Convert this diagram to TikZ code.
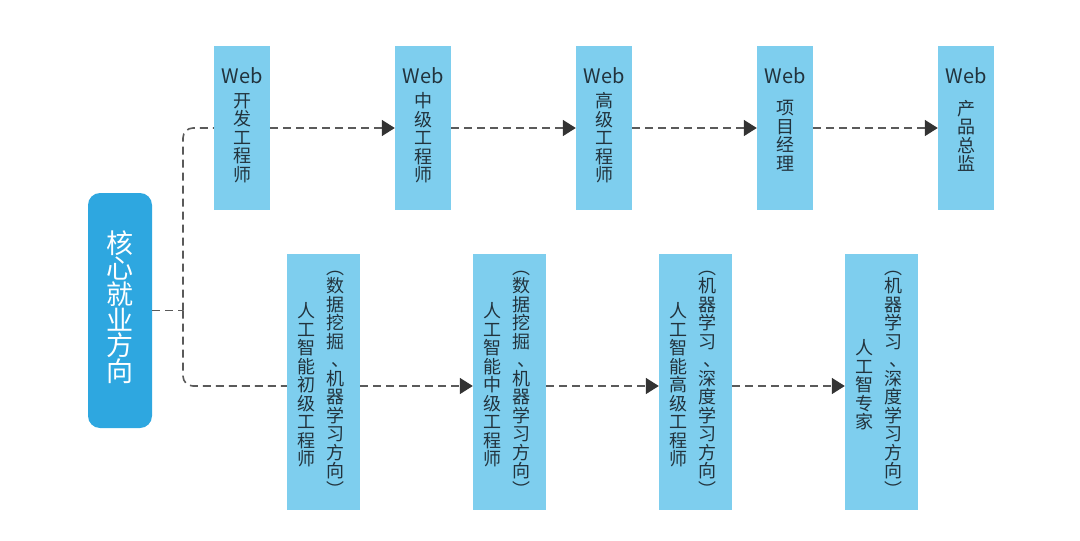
\documentclass[tikz,border=0pt]{standalone}
\usepackage{fontspec}
\setmainfont{Noto Sans CJK SC}
\usetikzlibrary{arrows.meta}
\definecolor{boxblue}{HTML}{7ECEEE}
\definecolor{coreblue}{HTML}{2EA7E0}
\definecolor{txtdark}{HTML}{22333D}
\definecolor{linegray}{HTML}{5A5A5A}
\definecolor{arrowgray}{HTML}{333333}
\newcommand{\vcomma}{\makebox[1em][l]{\hspace{0.3em}、}}
\begin{document}
\begin{tikzpicture}[x=1pt,y=-1pt,
  topbox/.style={fill=boxblue,draw=none,inner sep=0,minimum width=56,minimum height=164},
  botbox/.style={fill=boxblue,draw=none,inner sep=0,minimum width=73,minimum height=256},
  corebox/.style={fill=coreblue,draw=none,rounded corners=12,inner sep=0,minimum width=64,minimum height=235},
  webtxt/.style={text=txtdark,inner sep=0,font=\fontsize{20}{22}\selectfont},
  coltxt/.style={text=txtdark,inner sep=0,align=center,font=\fontsize{18}{18.5}\selectfont},
  coretxt/.style={text=white,inner sep=0,align=center,font=\fontsize{27}{25.6}\selectfont},
  conn/.style={draw=linegray,line width=1.6,dash pattern=on 8pt off 5pt},
  arr/.style={conn,-{Triangle[length=13pt,width=16pt,fill=arrowgray,color=arrowgray]}}
]
\useasboundingbox (0,0) rectangle (1080,541);

% core node
\node[corebox] (core) at (120,310.5) {};
\node[coretxt] (coret) at (120,307) {核\\心\\就\\业\\方\\向};

% top row
\node[topbox] (t1) at (242,128) {};
\node[topbox] (t2) at (423,128) {};
\node[topbox] (t3) at (604,128) {};
\node[topbox] (t4) at (785,128) {};
\node[topbox] (t5) at (966,128) {};
\node[webtxt] (w1) at (242,76) {Web};
\node[webtxt] (w2) at (423,76) {Web};
\node[webtxt] (w3) at (604,76) {Web};
\node[webtxt] (w4) at (785,76) {Web};
\node[webtxt] (w5) at (966,76) {Web};
\node[coltxt] (c1) at (242,138) {开\\发\\工\\程\\师};
\node[coltxt] (c2) at (423,138) {中\\级\\工\\程\\师};
\node[coltxt] (c3) at (604,138) {高\\级\\工\\程\\师};
\node[coltxt] (c4) at (785,136) {项\\目\\经\\理};
\node[coltxt] (c5) at (966,136) {产\\品\\总\\监};

% bottom row
\node[botbox] (b1) at (323.5,382) {};
\node[botbox] (b2) at (509.5,382) {};
\node[botbox] (b3) at (695.5,382) {};
\node[botbox] (b4) at (881.5,382) {};
\node[coltxt] (r1) at (335,383.5) {︵\\数\\据\\挖\\掘\\\vcomma\\机\\器\\学\\习\\方\\向\\︶};
\node[coltxt] (l1) at (306.5,385) {人\\工\\智\\能\\初\\级\\工\\程\\师};
\node[coltxt] (r2) at (521,383.5) {︵\\数\\据\\挖\\掘\\\vcomma\\机\\器\\学\\习\\方\\向\\︶};
\node[coltxt] (l2) at (492.5,385) {人\\工\\智\\能\\中\\级\\工\\程\\师};
\node[coltxt] (r3) at (707,383.5) {︵\\机\\器\\学\\习\\\vcomma\\深\\度\\学\\习\\方\\向\\︶};
\node[coltxt] (l3) at (678.5,385) {人\\工\\智\\能\\高\\级\\工\\程\\师};
\node[coltxt] (r4) at (893,383.5) {︵\\机\\器\\学\\习\\\vcomma\\深\\度\\学\\习\\方\\向\\︶};
\node[coltxt] (l4) at (864.5,385) {人\\工\\智\\专\\家};

% connectors
\coordinate (split) at (183,310.5);
\draw[conn] (core.east) -- (split);
\draw[conn,rounded corners=10] (split) |- (t1.west);
\draw[conn,rounded corners=10] (split) |- ([yshift=-4pt]b1.west);
\draw[arr] (t1.east) -- (t2.west);
\draw[arr] (t2.east) -- (t3.west);
\draw[arr] (t3.east) -- (t4.west);
\draw[arr] (t4.east) -- (t5.west);
\draw[arr] ([yshift=-4pt]b1.east) -- ([yshift=-4pt]b2.west);
\draw[arr] ([yshift=-4pt]b2.east) -- ([yshift=-4pt]b3.west);
\draw[arr] ([yshift=-4pt]b3.east) -- ([yshift=-4pt]b4.west);
\end{tikzpicture}
\end{document}
